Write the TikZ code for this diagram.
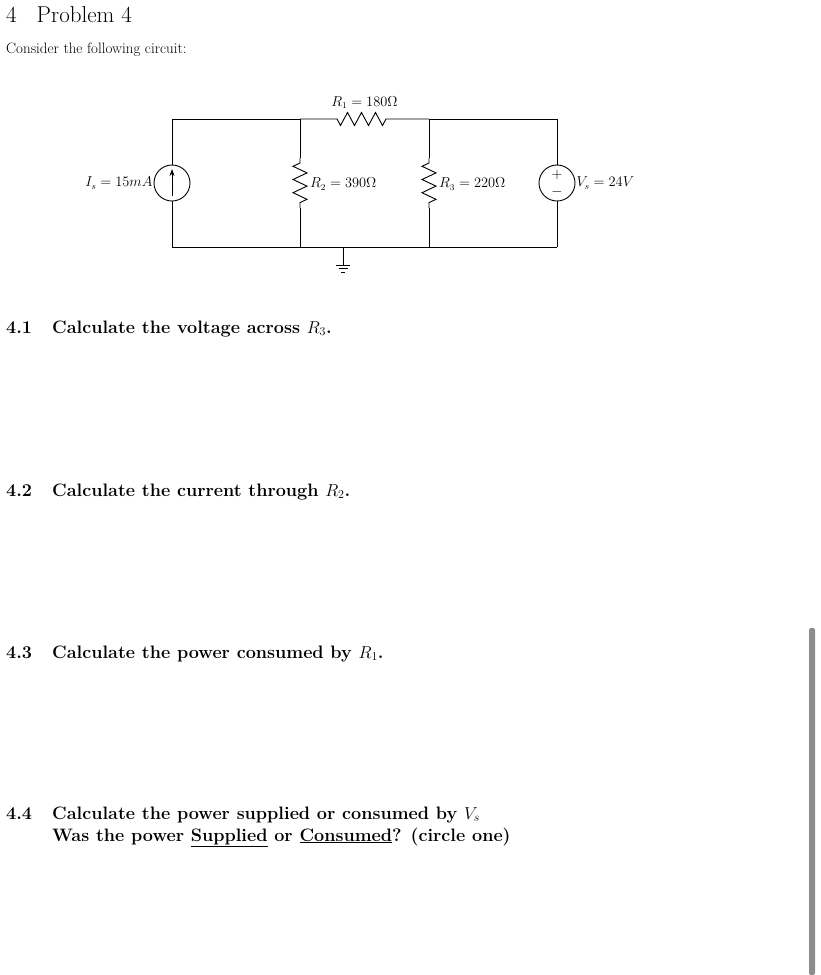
\documentclass[tikz,border=0pt]{standalone}
\usetikzlibrary{arrows.meta}
\newcommand{\zigv}[2]{% vertical resistor between two named coordinates
  \draw[wire] (#1) -- ++(0,5) -- ++(-7,3.3) -- ++(14,6.6) -- ++(-14,6.6) -- ++(14,6.6) -- ++(-14,6.6) -- ++(14,6.6) -- ++(-7,3.3) -- (#2);}
\begin{document}
\begin{tikzpicture}[x=1pt,y=-1pt,
  wire/.style={line width=0.9pt},
  lbl/.style={font=\fontsize{13.5}{15}\selectfont, inner sep=1pt},
  qnum/.style={anchor=base west, font=\fontsize{18}{20}\selectfont\bfseries, inner sep=0pt},
  qtext/.style={anchor=base west, font=\fontsize{18}{20}\selectfont\bfseries, inner sep=0pt, align=left}]
  \useasboundingbox[fill=white] (0,0) rectangle (820,975);
	% heading
	\node[anchor=base west, font=\fontsize{23}{26}\selectfont, inner sep=0pt] (title) at (6,22) {4\hspace{20pt}Problem 4};
	\node[anchor=base west, font=\fontsize{15}{18}\selectfont, inner sep=0pt] (intro) at (6,53) {Consider the following circuit:};
	% corners
	\coordinate (tl) at (172,119); \coordinate (bl) at (172,247);
	\coordinate (t2) at (300,119); \coordinate (b2) at (300,247);
	\coordinate (t3) at (429,119); \coordinate (b3) at (429,247);
	\coordinate (tr) at (557,119); \coordinate (br) at (557,247);
	\coordinate (gnd) at (343,247);
	% current source
	\node[draw, circle, wire, minimum size=36pt, inner sep=0pt] (is) at (172,183) {};
	\coordinate (ia) at (172,196); \coordinate (ib) at (172,169);
	\draw[wire, -{Stealth[length=7pt,width=5pt]}] (ia) -- (ib);
	\node[lbl, anchor=east] (islbl) at (is.west) {$I_s = 15mA$};
	% voltage source
	\node[draw, circle, wire, minimum size=36pt, inner sep=0pt] (vs) at (557,183) {};
	\node[lbl, font=\fontsize{14}{14}\selectfont] (vplus) at (557,175) {$+$};
	\node[lbl, font=\fontsize{14}{14}\selectfont] (vminus) at (557,192) {$-$};
	\node[lbl, anchor=west] (vslbl) at (vs.east) {$V_s = 24V$};
	% wires
	\draw[wire] (bl) -- (is.south) (is.north) -- (tl) -- (t2);
	\draw[wire] (br) -- (vs.south) (vs.north) -- (tr) -- (t3);
	\draw[wire] (bl) -- (br);
	% R1
	\coordinate (r1a) at (337,119); \coordinate (r1b) at (392,119);
	\draw[wire] (t2) -- (r1a) -- ++(3.5,6.5) -- ++(7,-13) -- ++(7,13) -- ++(7,-13) -- ++(7,13) -- ++(7,-13) -- ++(7,13) -- ++(3.5,-6.5) -- (r1b) -- (t3);
	\node[lbl, anchor=south] (r1lbl) at (364.5,110) {$R_1 = 180\Omega$};
	% R2, R3
	\coordinate (r2a) at (300,158); \coordinate (r2b) at (300,208);
	\coordinate (r3a) at (429,158); \coordinate (r3b) at (429,208);
	\draw[wire] (t2) -- (r2a) (r2b) -- (b2);
	\zigv{r2a}{r2b}
	\draw[wire] (t3) -- (r3a) (r3b) -- (b3);
	\zigv{r3a}{r3b}
	\node[lbl, anchor=west] (r2lbl) at (309,184) {$R_2 = 390\Omega$};
	\node[lbl, anchor=west] (r3lbl) at (438,184) {$R_3 = 220\Omega$};
	% ground
	\coordinate (g1) at (343,265);
	\draw[wire] (gnd) -- (g1);
	\draw[wire] (336,265) -- (350,265) (338.5,268.5) -- (347.5,268.5) (341,272) -- (345,272);
	% questions
	\node[qnum] (q1n) at (6,333) {4.1};
	\node[qtext] (q1) at (52,333) {Calculate the voltage across $R_3$.};
	\node[qnum] (q2n) at (6,496) {4.2};
	\node[qtext] (q2) at (52,496) {Calculate the current through $R_2$.};
	\node[qnum] (q3n) at (6,658) {4.3};
	\node[qtext] (q3) at (52,658) {Calculate the power consumed by $R_1$.};
	\node[qnum] (q4n) at (6,819) {4.4};
	\node[qtext] (q4) at (52,819) {Calculate the power supplied or consumed by $V_s$};
	\node[qtext] (q4b) at (52,841) {Was the power \underline{Supplied} or \underline{Consumed}? (circle one)};
	% scrollbar
	\fill[black!45, rounded corners=2pt] (809,628) rectangle (815,975);
\end{tikzpicture}
\end{document}
